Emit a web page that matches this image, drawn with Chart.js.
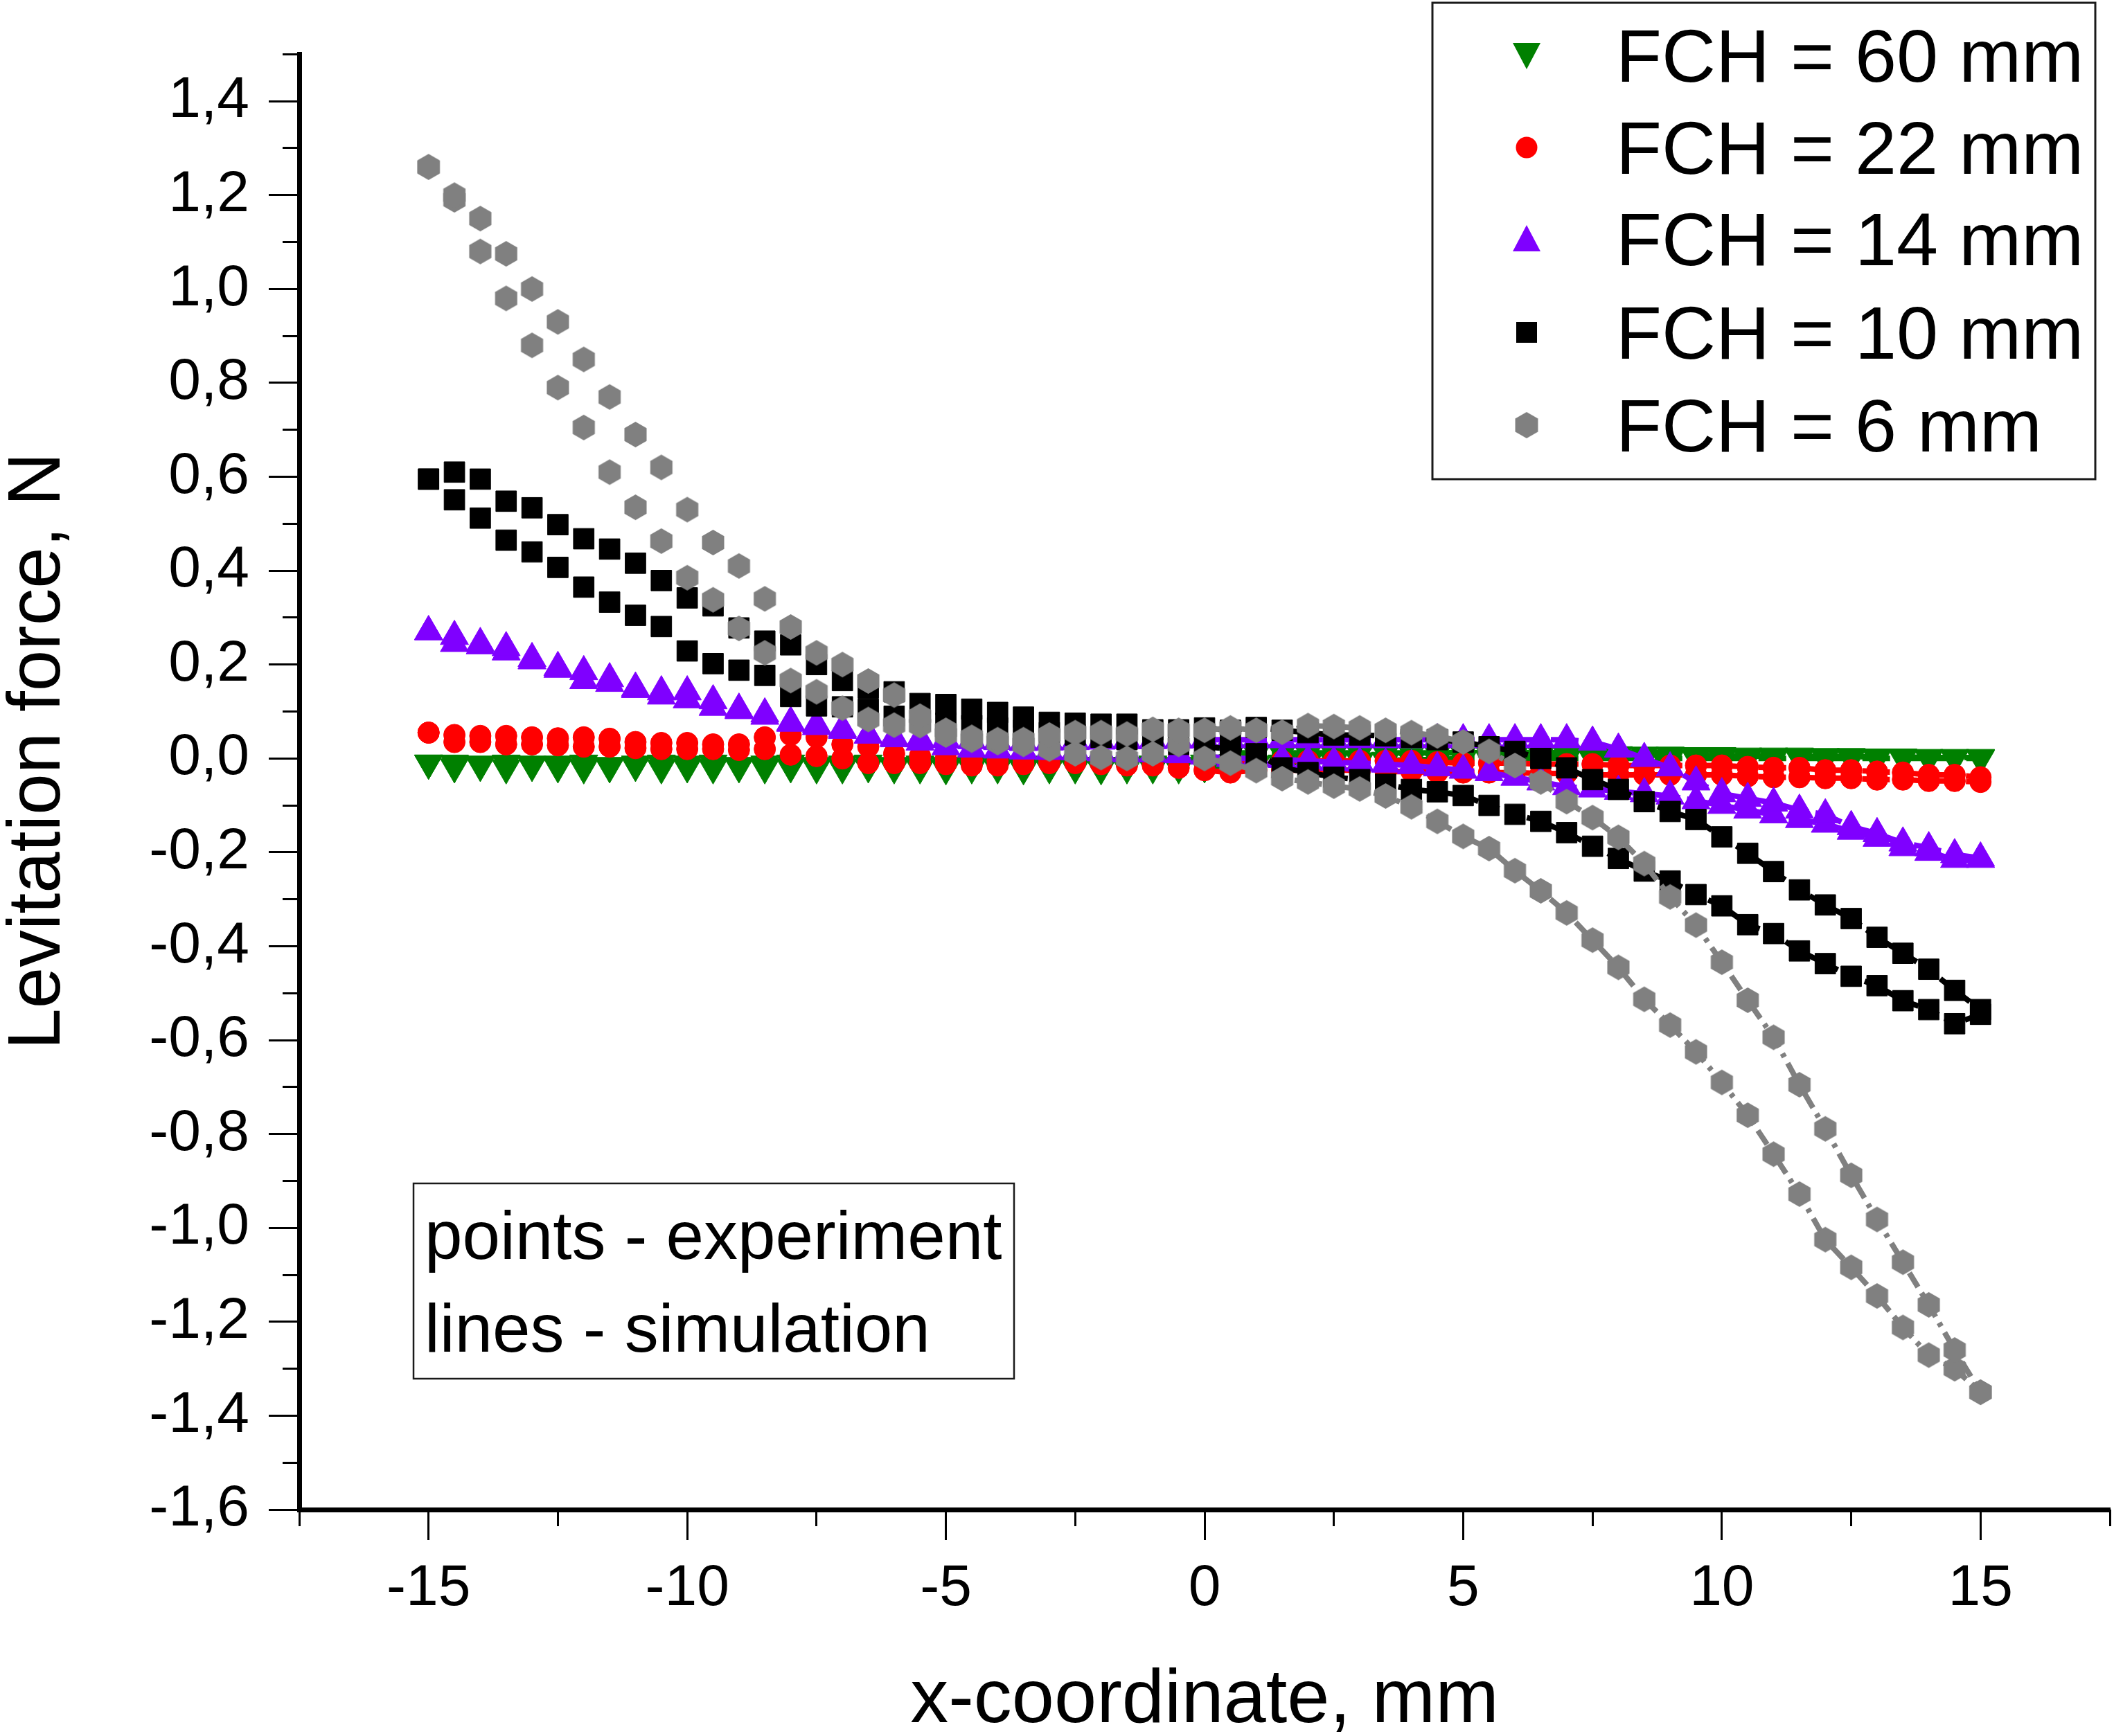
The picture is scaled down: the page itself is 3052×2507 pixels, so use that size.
<!DOCTYPE html>
<html>
<head>
<meta charset="utf-8">
<script src="https://cdn.jsdelivr.net/npm/chart.js@4.4.1/dist/chart.umd.min.js"></script>
<style>
html,body{margin:0;padding:0;background:#fff;}
#wrap{width:3052px;height:2507px;position:relative;}
</style>
</head>
<body>
<div id="wrap"><canvas id="c" width="3052" height="2507"></canvas></div>
<script>
// ---------------- data ----------------
const xCoord = [-15,-14.5,-14,-13.5,-13,-12.5,-12,-11.5,-11,-10.5,-10,-9.5,-9,-8.5,-8,-7.5,-7,-6.5,-6,-5.5,-5,-4.5,-4,-3.5,-3,-2.5,-2,-1.5,-1,-0.5,0,0.5,1,1.5,2,2.5,3,3.5,4,4.5,5,5.5,6,6.5,7,7.5,8,8.5,9,9.5,10,10.5,11,11.5,12,12.5,13,13.5,14,14.5,15];

const fch6A = [1.26,1.20,1.15,1.075,1.00,0.93,0.85,0.77,0.69,0.62,
  0.53,0.46,0.41,0.34,0.28,0.225,0.20,0.165,0.135,0.09,
  0.06,0.045,0.04,0.04,0.05,0.055,0.055,0.052,0.062,0.06,
  0.06,0.065,0.06,0.056,0.07,0.068,0.065,0.06,0.055,0.048,
  0.035,0.015,-0.015,-0.05,-0.092,-0.126,-0.168,-0.224,-0.295,-0.355,
  -0.434,-0.515,-0.594,-0.695,-0.789,-0.888,-0.982,-1.073,-1.164,-1.26,
  -1.35];
const fch6B = [1.26,1.19,1.08,0.98,0.88,0.79,0.705,0.61,0.535,0.463,
  0.385,0.338,0.277,0.225,0.166,0.142,0.107,0.083,0.071,0.07,
  0.05,0.039,0.034,0.03,0.02,0.01,0.002,0.0,0.01,0.03,
  0.0,-0.01,-0.026,-0.043,-0.05,-0.059,-0.065,-0.08,-0.103,-0.134,
  -0.166,-0.192,-0.239,-0.282,-0.329,-0.387,-0.445,-0.513,-0.568,-0.625,
  -0.69,-0.76,-0.843,-0.928,-1.025,-1.084,-1.145,-1.212,-1.271,-1.30,
  -1.35];
const fch10A = [0.595,0.61,0.595,0.548,0.534,0.498,0.468,0.446,0.416,0.379,
  0.342,0.325,0.278,0.25,0.242,0.2,0.166,0.15,0.142,0.117,
  0.115,0.105,0.098,0.088,0.077,0.075,0.073,0.073,0.061,0.061,
  0.065,0.06,0.066,0.06,0.055,0.05,0.05,0.048,0.045,0.04,
  0.035,0.025,0.015,0.0,-0.02,-0.045,-0.066,-0.092,-0.113,-0.13,
  -0.167,-0.202,-0.241,-0.28,-0.312,-0.341,-0.381,-0.415,-0.449,-0.494,
  -0.535];
const fch10B = [0.595,0.551,0.512,0.465,0.44,0.407,0.365,0.333,0.305,0.281,
  0.229,0.202,0.188,0.177,0.132,0.112,0.11,0.105,0.09,0.08,
  0.075,0.07,0.065,0.06,0.055,0.05,0.045,0.04,0.035,0.03,
  0.025,0.02,0.01,-0.02,-0.03,-0.04,-0.045,-0.055,-0.066,-0.071,
  -0.079,-0.1,-0.119,-0.134,-0.158,-0.187,-0.213,-0.24,-0.261,-0.29,
  -0.314,-0.354,-0.373,-0.41,-0.437,-0.464,-0.484,-0.516,-0.535,-0.565,
  -0.545];
const fch14A = [0.27,0.26,0.245,0.236,0.213,0.194,0.185,0.17,0.15,0.142,
  0.142,0.123,0.102,0.095,0.077,0.068,0.063,0.05,0.045,0.042,
  0.04,0.038,0.036,0.034,0.035,0.036,0.037,0.038,0.038,0.039,
  0.04,0.04,0.04,0.04,0.04,0.04,0.04,0.04,0.04,0.04,
  0.04,0.04,0.04,0.04,0.04,0.035,0.02,0.0,-0.02,-0.05,
  -0.075,-0.085,-0.095,-0.11,-0.12,-0.145,-0.16,-0.18,-0.19,-0.205,
  -0.212];
const fch14B = [0.27,0.245,0.24,0.227,0.208,0.19,0.166,0.16,0.147,0.133,
  0.125,0.109,0.105,0.09,0.075,0.072,0.06,0.05,0.042,0.035,
  0.025,0.02,0.018,0.016,0.015,0.014,0.012,0.01,0.01,0.008,
  0.005,0.0,0.0,-0.002,-0.005,-0.008,-0.01,-0.012,-0.015,-0.02,
  -0.025,-0.03,-0.04,-0.05,-0.06,-0.065,-0.07,-0.075,-0.08,-0.09,
  -0.1,-0.11,-0.12,-0.13,-0.14,-0.155,-0.17,-0.19,-0.2,-0.215,
  -0.215];
const fch22A = [0.055,0.05,0.048,0.048,0.045,0.043,0.045,0.042,0.035,0.033,
  0.033,0.03,0.03,0.045,0.05,0.045,0.03,0.025,0.01,0.005,
  0.0,-0.003,-0.005,0.0,0.0,0.005,0.0,0.0,0.0,0.0,
  -0.003,-0.005,-0.005,-0.005,-0.005,-0.005,-0.005,-0.005,-0.005,-0.008,
  -0.01,-0.01,-0.01,-0.012,-0.012,-0.012,-0.015,-0.015,-0.015,-0.015,
  -0.015,-0.018,-0.02,-0.02,-0.025,-0.025,-0.028,-0.03,-0.035,-0.035,
  -0.04];
const fch22B = [0.055,0.035,0.035,0.03,0.03,0.028,0.025,0.025,0.022,0.02,
  0.02,0.02,0.018,0.02,0.008,0.005,0.0,-0.01,-0.01,-0.01,
  -0.012,-0.015,-0.015,-0.012,-0.01,-0.01,-0.012,-0.015,-0.015,-0.02,
  -0.025,-0.03,-0.025,-0.025,-0.025,-0.025,-0.025,-0.028,-0.028,-0.03,
  -0.03,-0.03,-0.03,-0.032,-0.032,-0.035,-0.035,-0.035,-0.035,-0.035,
  -0.035,-0.038,-0.04,-0.04,-0.042,-0.042,-0.045,-0.045,-0.048,-0.048,
  -0.05];
const fch60A = [-0.01,-0.01,-0.012,-0.01,-0.012,-0.012,-0.01,-0.015,-0.012,-0.01,
  -0.012,-0.01,-0.015,-0.012,-0.01,-0.015,-0.012,-0.01,-0.015,-0.012,
  -0.015,-0.012,-0.015,-0.012,-0.015,-0.015,-0.015,-0.015,-0.012,-0.015,
  -0.01,0.012,0.012,0.012,0.012,0.012,0.012,0.012,0.012,0.012,
  0.012,0.01,0.01,0.01,0.008,0.008,0.008,0.007,0.007,0.006,
  0.006,0.005,0.005,0.005,0.004,0.004,0.003,0.003,0.002,0.002,
  0.002];
const fch60B = [-0.01,-0.018,-0.015,-0.02,-0.015,-0.018,-0.02,-0.018,-0.015,-0.02,
  -0.018,-0.02,-0.018,-0.02,-0.018,-0.02,-0.02,-0.018,-0.02,-0.02,
  -0.022,-0.02,-0.02,-0.022,-0.02,-0.02,-0.022,-0.02,-0.02,-0.02,
  -0.018,-0.015,-0.012,-0.01,-0.008,-0.006,-0.005,-0.004,-0.003,-0.002,
  0.0,0.0,0.0,0.0,0.0,0.0,0.0,0.0,0.0,0.0,
  0.0,0.0,0.0,0.0,0.0,0.0,0.0,0.0,0.0,0.0,
  0.0];

const legendLabels = ['FCH = 60 mm','FCH = 22 mm','FCH = 14 mm','FCH = 10 mm','FCH = 6 mm'];
const noteLines = ['points - experiment','lines - simulation'];

const xMajorTicks = [-15,-10,-5,0,5,10,15];
const xMinorTicks = [-17.5,-15,-12.5,-10,-7.5,-5,-2.5,0,2.5,5,7.5,10,12.5,15,17.5];
const yMajorTicks = [-1.6,-1.4,-1.2,-1.0,-0.8,-0.6,-0.4,-0.2,0,0.2,0.4,0.6,0.8,1.0,1.2,1.4];
const yMinorTicks = [-1.6,-1.5,-1.4,-1.3,-1.2,-1.1,-1.0,-0.9,-0.8,-0.7,-0.6,-0.5,-0.4,-0.3,-0.2,-0.1,0,0.1,0.2,0.3,0.4,0.5,0.6,0.7,0.8,0.9,1.0,1.1,1.2,1.3,1.4,1.5];

// ---------------- styles ----------------
const FONT = "'Liberation Sans', Arial, Helvetica, sans-serif";
const C_GREEN = '#008000', C_RED = '#ff0000', C_PURPLE = '#7f00ff', C_BLACK = '#000000', C_GRAY = '#808080';

function hexImg(R, color){
  const c = document.createElement('canvas');
  const w = Math.ceil(2*R*Math.cos(Math.PI/6)) + 2, h = Math.ceil(2*R) + 2;
  c.width = w; c.height = h;
  const g = c.getContext('2d');
  g.fillStyle = color;
  g.beginPath();
  for (let k = 0; k < 6; k++){
    const a = -Math.PI/2 + k*Math.PI/3;
    const px = w/2 + R*Math.cos(a), py = h/2 + R*Math.sin(a);
    if (k) g.lineTo(px, py); else g.moveTo(px, py);
  }
  g.closePath(); g.fill();
  return c;
}
const hexPoint = hexImg(18.5, C_GRAY);
const hexLegend = hexImg(19, C_GRAY);

function pts(arr){ return xCoord.map((x,i)=>({x:x, y:arr[i]})); }

function ds(label, arr, color, style, radius, rotation, dash){
  return {
    label: label,
    data: pts(arr),
    showLine: true,
    borderColor: color,
    backgroundColor: color,
    borderWidth: 8,
    borderDash: dash,
    tension: 0,
    pointStyle: style,
    pointRadius: radius,
    pointRotation: rotation,
    pointBackgroundColor: color,
    pointBorderColor: color,
    pointBorderWidth: 1,
    segment: { borderColor: c => (c.p0.parsed.x < 0 ? 'rgba(0,0,0,0)' : color) }
  };
}

const datasets = [
  ds('FCH = 6 mm (branch 1)', fch6A, C_GRAY, hexPoint, 18, 0, [24,10,6,10]),
  ds('FCH = 6 mm (branch 2)', fch6B, C_GRAY, hexPoint, 18, 0, [24,10,6,10]),
  ds('FCH = 10 mm (branch 1)', fch10A, C_BLACK, 'rect', 21, 0, [22,10]),
  ds('FCH = 10 mm (branch 2)', fch10B, C_BLACK, 'rect', 21, 0, [22,10]),
  ds('FCH = 14 mm (branch 1)', fch14A, C_PURPLE, 'triangle', 23.5, 0, [40,10]),
  ds('FCH = 14 mm (branch 2)', fch14B, C_PURPLE, 'triangle', 23.5, 0, [40,10]),
  ds('FCH = 22 mm (branch 1)', fch22A, C_RED, 'circle', 15.5, 0, [40,10]),
  ds('FCH = 22 mm (branch 2)', fch22B, C_RED, 'circle', 15.5, 0, [40,10]),
  ds('FCH = 60 mm (branch 1)', fch60A, C_GREEN, 'triangle', 23.5, 180, [40,10]),
  ds('FCH = 60 mm (branch 2)', fch60B, C_GREEN, 'triangle', 23.5, 180, [40,10])
];

function fmtY(v){
  if (Math.abs(v) < 1e-9) return '0,0';
  return (v < 0 ? '-' : '') + Math.abs(v).toFixed(1).replace('.', ',');
}

// ---------------- legend & note box plugin ----------------
const boxes = {
  id: 'boxes',
  afterDraw(chart){
    const ctx = chart.ctx;
    ctx.save();
    // legend frame
    ctx.fillStyle = '#fff';
    ctx.fillRect(2068, 4, 957, 688);
    ctx.lineWidth = 3; ctx.strokeStyle = '#1a1a1a';
    ctx.strokeRect(2068, 4, 957, 688);
    const rowsY = [80, 213, 345, 480, 614];
    const colors = [C_GREEN, C_RED, C_PURPLE, C_BLACK, C_GRAY];
    const mx = 2204;
    rowsY.forEach((y, i) => {
      ctx.fillStyle = colors[i];
      ctx.beginPath();
      if (i === 0){ // down triangle
        ctx.moveTo(mx - 20, y - 18); ctx.lineTo(mx + 20, y - 18); ctx.lineTo(mx, y + 20); ctx.closePath(); ctx.fill();
      } else if (i === 1){
        ctx.arc(mx, y, 15.5, 0, Math.PI*2); ctx.fill();
      } else if (i === 2){
        ctx.moveTo(mx - 20, y + 18); ctx.lineTo(mx + 20, y + 18); ctx.lineTo(mx, y - 20); ctx.closePath(); ctx.fill();
      } else if (i === 3){
        ctx.fillRect(mx - 15, y - 15, 30, 30);
      } else {
        ctx.drawImage(hexLegend, mx - hexLegend.width/2, y - hexLegend.height/2);
      }
      ctx.fillStyle = '#000';
      ctx.font = '108px ' + FONT;
      ctx.textAlign = 'left';
      ctx.textBaseline = 'alphabetic';
      ctx.fillText(legendLabels[i], 2333, y + 38);
    });
    // note box
    ctx.lineWidth = 2.5; ctx.strokeStyle = '#1a1a1a';
    ctx.strokeRect(597, 1709, 867, 282);
    ctx.fillStyle = '#000';
    ctx.font = '98px ' + FONT;
    ctx.fillText(noteLines[0], 613, 1818);
    ctx.fillText(noteLines[1], 613, 1952);
    ctx.restore();
  }
};

// ---------------- chart ----------------
const tickFont = { family: FONT, size: 84 };
new Chart(document.getElementById('c'), {
  type: 'scatter',
  data: { datasets: datasets },
  options: {
    responsive: false,
    animation: false,
    devicePixelRatio: 1,
    layout: { autoPadding: false, padding: { top: 75, right: 6, left: 0, bottom: 0 } },
    plugins: { legend: { display: false }, tooltip: { enabled: false } },
    scales: {
      x: {
        type: 'linear', position: 'bottom', min: -17.5, max: 17.5, weight: 1,
        afterBuildTicks: s => { s.ticks = xMajorTicks.map(v => ({ value: v })); },
        ticks: { font: tickFont, color: '#000', padding: 20, maxRotation: 0, autoSkip: false, callback: v => String(v) },
        grid: { drawOnChartArea: false, drawTicks: true, tickLength: 44, tickWidth: 3, tickColor: '#000' },
        border: { display: true, color: '#000', width: 7 },
        title: { display: true, text: 'x-coordinate, mm', color: '#000', font: { family: FONT, size: 110, lineHeight: 0.92 }, padding: { top: 0, bottom: 0 } },
        afterFit: s => { s.height = 327; }
      },
      xMinor: {
        type: 'linear', position: 'bottom', min: -17.5, max: 17.5, weight: 0,
        afterBuildTicks: s => { s.ticks = xMinorTicks.map(v => ({ value: v })); },
        ticks: { autoSkip: false, maxRotation: 0, callback: () => '' },
        grid: { drawOnChartArea: false, drawTicks: true, tickLength: 24, tickWidth: 3, tickColor: '#000' },
        border: { display: false },
        afterFit: s => { s.height = 0; }
      },
      y: {
        type: 'linear', position: 'left', min: -1.6, max: 1.5, weight: 1,
        afterBuildTicks: s => { s.ticks = yMajorTicks.map(v => ({ value: v })); },
        ticks: { font: tickFont, color: '#000', padding: 28, autoSkip: false, callback: v => fmtY(v) },
        grid: { drawOnChartArea: false, drawTicks: true, tickLength: 44, tickWidth: 3, tickColor: '#000' },
        border: { display: true, color: '#000', width: 7 },
        title: { display: true, text: '   Levitation force, N', color: '#000', font: { family: FONT, size: 107, lineHeight: 1.05 }, padding: { top: 0, bottom: 0 } },
        afterFit: s => { s.width = 432; }
      },
      yMinor: {
        type: 'linear', position: 'left', min: -1.6, max: 1.5, weight: 0,
        afterBuildTicks: s => { s.ticks = yMinorTicks.map(v => ({ value: v })); },
        ticks: { autoSkip: false, callback: () => '' },
        grid: { drawOnChartArea: false, drawTicks: true, tickLength: 24, tickWidth: 3, tickColor: '#000' },
        border: { display: false },
        afterFit: s => { s.width = 0; }
      }
    }
  },
  plugins: [boxes]
});
</script>
</body>
</html>
